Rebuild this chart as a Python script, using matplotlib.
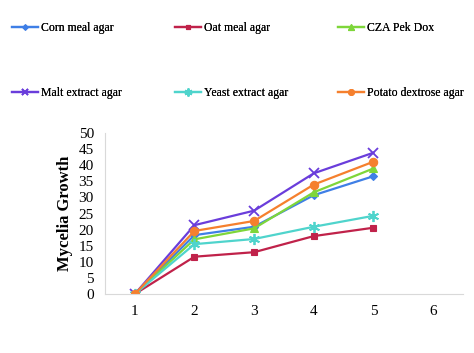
import matplotlib.pyplot as plt

days = [1, 2, 3, 4, 5]
xticks = [1, 2, 3, 4, 5, 6]
corn = [0, 18.3, 20.9, 30.7, 36.6]
oat = [0, 11.6, 13.0, 18.0, 20.6]
cza = [0, 17.0, 20.4, 31.6, 39.0]
malt = [0, 21.4, 25.9, 37.5, 43.9]
yeast = [0, 15.5, 17.1, 20.9, 24.3]
potato = [0, 19.6, 22.7, 34.0, 41.1]

series = [
    ('Corn meal agar', corn, '#3f7fe6', 'D', 4),
    ('Oat meal agar', oat, '#c0224a', 's', 5),
    ('CZA Pek Dox', cza, '#7ed63a', '^', 5.5),
    ('Malt extract agar', malt, '#6a3ddb', 'x', 7),
    ('Yeast extract agar', yeast, '#4fd4cc', (6, 2, 0), 8),
    ('Potato dextrose agar', potato, '#f5802e', 'o', 6),
]

plt.rcParams['font.family'] = ['Liberation Serif', 'DejaVu Serif']

fig = plt.figure(figsize=(4.74, 3.53), dpi=100)
ax = fig.add_axes([0.2215, 0.167, 0.755, 0.456])

handles = []
for name, vals, col, mk, ms in series:
    h, = ax.plot(days, vals, color=col, marker=mk, markersize=ms, lw=1.6,
                 markeredgewidth=1.3 if mk in ('x', (6, 2, 0)) else 0.8,
                 label=name)
    handles.append(h)

ax.set_xlim(0.5, 6.5)
ax.set_ylim(0, 50)
ax.set_xticks(xticks)
ax.set_yticks(range(0, 51, 5))
ax.tick_params(length=0, labelsize=11, pad=8)
for s in ['top', 'right']:
    ax.spines[s].set_visible(False)
for s in ['left', 'bottom']:
    ax.spines[s].set_color('#d9d9d9')
ax.set_ylabel('Mycelia Growth', fontsize=12, fontweight='bold', labelpad=4)

# three legend columns, two rows each, like the Excel legend
cols_x = [0.026, 0.37, 0.714]
for i, x in enumerate(cols_x):
    hs = [handles[i], handles[i + 3]]
    leg = fig.legend(hs, [h.get_label() for h in hs], loc='upper left',
                     bbox_to_anchor=(x, 0.937), frameon=False, fontsize=8.5,
                     handlelength=2.2, handletextpad=0.2, labelspacing=4.45,
                     markerscale=0.7, borderaxespad=0, borderpad=0)
    fig.add_artist(leg)

fig.savefig('out.png', dpi=100)
